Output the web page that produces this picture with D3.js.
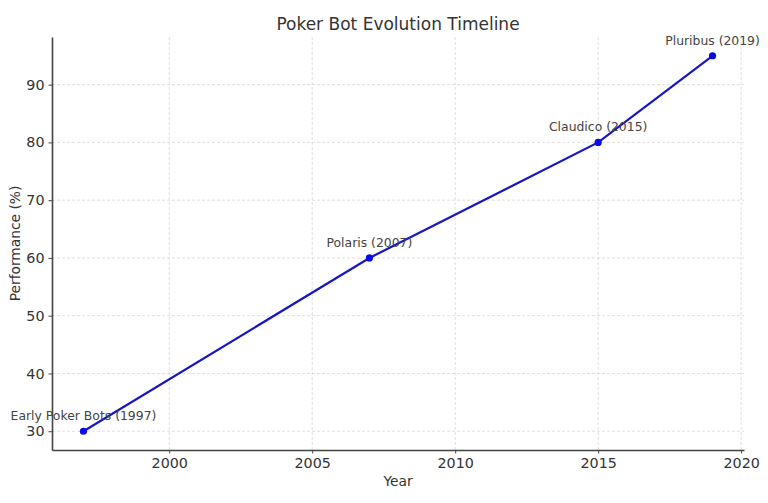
<!DOCTYPE html>
<html>
<head>
<meta charset="utf-8">
<script src="https://cdn.jsdelivr.net/npm/d3@7"></script>
<style>
  body { margin: 0; background: #fff; }
  text { font-family: "DejaVu Sans", sans-serif; }
</style>
</head>
<body>
<svg id="chart" width="768" height="503"></svg>
<script>
// Data.
var years = [1997, 2007, 2015, 2019];
var performance = [30, 60, 80, 95];
var botNames = ["Early Poker Bots (1997)", "Polaris (2007)", "Claudico (2015)", "Pluribus (2019)"];
var xTicks = [2000, 2005, 2010, 2015, 2020];
var yTicks = [30, 40, 50, 60, 70, 80, 90];

var svg = d3.select("#chart"),
    margin = {top: 37, right: 24, bottom: 53, left: 52},
    width = 768 - margin.left - margin.right,
    height = 503 - margin.top - margin.bottom;

var x = d3.scaleLinear().domain([1995.9, 2020.1]).range([0, width]);
var y = d3.scaleLinear().domain([26.75, 98.25]).range([height, 0]);

var g = svg.append("g")
    .attr("transform", "translate(" + margin.left + "," + margin.top + ")");

// Grid lines.
g.append("g").selectAll("line.vgrid")
    .data(xTicks)
    .enter().append("line")
    .attr("x1", function (d) { return x(d); })
    .attr("x2", function (d) { return x(d); })
    .attr("y1", 0).attr("y2", height)
    .style("stroke", "#d8d8d8").style("stroke-width", 0.8)
    .style("stroke-dasharray", "3,2");

g.append("g").selectAll("line.hgrid")
    .data(yTicks)
    .enter().append("line")
    .attr("x1", 0).attr("x2", width)
    .attr("y1", function (d) { return y(d); })
    .attr("y2", function (d) { return y(d); })
    .style("stroke", "#d8d8d8").style("stroke-width", 0.8)
    .style("stroke-dasharray", "3,2");

// Axes.
var xAxis = g.append("g")
    .attr("transform", "translate(0," + height + ")")
    .call(d3.axisBottom(x).tickValues(xTicks).tickFormat(d3.format("d"))
        .tickSizeInner(3.5).tickSizeOuter(0).tickPadding(4));

var yAxis = g.append("g")
    .call(d3.axisLeft(y).tickValues(yTicks).tickSizeInner(3.5).tickSizeOuter(0).tickPadding(4));

[xAxis, yAxis].forEach(function (a) {
    a.select(".domain").style("stroke", "#444").style("stroke-width", 1.6);
    a.selectAll(".tick line").style("stroke", "#444").style("stroke-width", 1);
    a.selectAll(".tick text")
        .style("font-family", "DejaVu Sans, sans-serif")
        .style("font-size", "14.3px")
        .style("fill", "#333");
});

// Line and markers.
var pts = years.map(function (d, i) {
    return {year: d, perf: performance[i], name: botNames[i]};
});

var line = d3.line()
    .x(function (d) { return x(d.year); })
    .y(function (d) { return y(d.perf); });

g.append("path")
    .datum(pts)
    .attr("d", line)
    .style("fill", "none")
    .style("stroke", "#1616c4")
    .style("stroke-width", 2.2);

g.selectAll("circle.pt")
    .data(pts)
    .enter().append("circle")
    .attr("cx", function (d) { return x(d.year); })
    .attr("cy", function (d) { return y(d.perf); })
    .attr("r", 3.6)
    .style("fill", "#0a0ae6");

// Annotations above each point.
g.selectAll("text.note")
    .data(pts)
    .enter().append("text")
    .attr("x", function (d) { return x(d.year); })
    .attr("y", function (d) { return y(d.perf) - 11; })
    .attr("text-anchor", "middle")
    .style("font-size", "12.4px")
    .style("fill", "#444")
    .text(function (d) { return d.name; });

// Title and axis labels.
svg.append("text")
    .attr("x", margin.left + width / 2)
    .attr("y", 30)
    .attr("text-anchor", "middle")
    .style("font-size", "17px")
    .style("fill", "#333")
    .text("Poker Bot Evolution Timeline");

svg.append("text")
    .attr("x", margin.left + width / 2)
    .attr("y", 486)
    .attr("text-anchor", "middle")
    .style("font-size", "13.8px")
    .style("fill", "#333")
    .text("Year");

svg.append("text")
    .attr("transform", "translate(20," + (margin.top + height / 2) + ") rotate(-90)")
    .attr("text-anchor", "middle")
    .style("font-size", "13.8px")
    .style("fill", "#333")
    .text("Performance (%)");
</script>
</body>
</html>
